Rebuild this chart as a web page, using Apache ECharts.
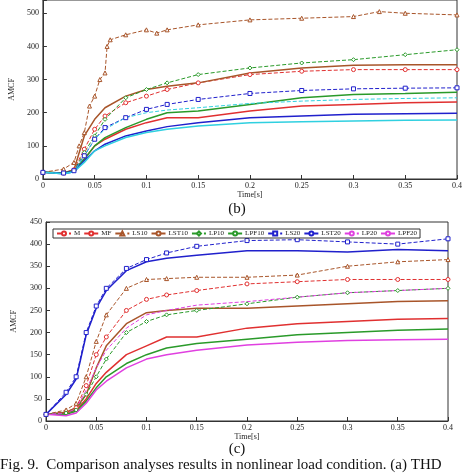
<!DOCTYPE html><html><head><meta charset="utf-8"><script src="https://cdn.jsdelivr.net/npm/echarts@6/dist/echarts.min.js"></script></head><body style="margin:0"><div id="c" style="width:474px;height:474px"></div><script>
const names=['M','MF','LS10','LST10','LP10','LPF10','LS20','LST20','LP20','LPF20'];
const T=[0,0.02,0.03,0.04,0.05,0.06,0.08,0.1,0.12,0.15,0.2,0.25,0.3,0.35,0.4];
const xTicks=[0,0.05,0.1,0.15,0.2,0.25,0.3,0.35,0.4];
// chart (b)
const bM=[20,18,28,90,150,190,230,250,270,290,315,325,330,330,330];
const bMF=[20,18,25,60,100,120,150,170,185,185,205,220,225,230,232];
const bLS10T=[0,0.02,0.03,0.035,0.04,0.045,0.05,0.055,0.06,0.062,0.065,0.08,0.1,0.11,0.12,0.15,0.2,0.25,0.3,0.325,0.35,0.4];
const bLS10=[20,30,50,100,140,220,250,300,320,400,420,435,450,440,450,465,480,485,490,505,500,495];
const bLST10=[20,18,28,130,180,215,250,270,280,290,320,335,343,345,345];
const bLP10=[20,18,25,80,130,180,245,270,290,315,335,350,360,375,390];
const bLPF10=[20,18,25,60,100,125,155,180,200,205,225,245,255,258,262];
const bLS20=[20,18,25,70,120,155,185,210,225,240,258,267,272,274,275];
const bLST20=[20,16,22,55,85,105,130,145,158,170,185,190,195,197,198];
const bLP20=[20,16,22,70,120,150,185,200,208,215,228,235,240,243,245];
const bLPF20=[20,16,22,50,85,100,125,140,150,160,170,173,175,177,178];
// chart (c)
const cM=[15,20,30,80,150,190,250,275,285,295,310,315,320,320,320];
const cMF=[15,18,25,50,85,110,150,170,190,190,210,220,225,230,232];
const cLS10=[15,25,40,100,180,240,300,320,322,325,325,330,350,360,365];
const cLST10=[15,20,30,60,120,170,220,245,250,255,255,260,265,270,272];
const cLP10=[15,18,25,60,100,140,200,225,240,250,265,280,290,295,300];
const cLPF10=[15,15,22,45,75,100,130,150,165,175,185,195,200,205,208];
const cLS20=[15,65,100,200,260,300,345,365,380,395,408,410,405,400,412];
const cLST20=[15,60,95,195,255,295,340,360,368,375,385,385,382,388,385];
const cLP20=[15,18,28,70,120,160,210,240,250,262,270,280,290,295,300];
const cLPF20=[15,12,18,40,70,90,120,140,150,160,172,178,182,184,185];

const red='#e03030',brown='#a8552a',green='#2a9a2a',blue='#2020cc',mag='#e040e0',cyan='#30d0e0';
const F='Liberation Serif';
function sty(i,c2){
  const cols=[red,red,brown,brown,green,green,blue,blue,c2,c2];
  const sym=['circle','none','triangle','none','diamond','none','rect','none','none','none'];
  const dashed=i%2===0;
  return {color:cols[i],symbol:sym[i],type:dashed?'dashed':'solid',w:dashed?1:1.5};
}
function mk(name,i,xs,ys,gi,c2){
  const s=sty(i,c2);
  return {name,type:'line',xAxisIndex:gi,yAxisIndex:gi,data:xs.map((x,k)=>[x,ys[k]]),
    symbol:s.symbol,symbolSize:4,showSymbol:s.symbol!=='none',itemStyle:{color:'#fff',borderColor:s.color,borderWidth:1},
    lineStyle:{color:s.color,type:s.type,width:s.w},color:s.color,animation:false};
}
const bS=[bM,bMF,bLS10,bLST10,bLP10,bLPF10,bLS20,bLST20,bLP20,bLPF20];
const cS=[cM,cMF,cLS10,cLST10,cLP10,cLPF10,cLS20,cLST20,cLP20,cLPF20];
const series=[];
bS.forEach((d,i)=>series.push(mk('b'+names[i],i,i===2?bLS10T:T,d,0,cyan)));
cS.forEach((d,i)=>series.push(mk(names[i],i,T,d,1,mag)));
const ax={axisLine:{lineStyle:{color:'#333'}},axisTick:{inside:true,length:4,lineStyle:{color:'#333'}},splitLine:{show:false},axisLabel:{fontFamily:F,fontSize:9,color:'#222'}};
const opt={
  grid:[{left:38,right:17,top:0,height:179,show:true,borderColor:'#333'},{left:46,right:26,top:222,height:199,show:true,borderColor:'#333'}],
  xAxis:[0,1].map(g=>Object.assign({},ax,{type:'value',gridIndex:g,min:0,max:0.4,interval:0.05,name:'Time[s]',nameLocation:'middle',nameGap:12,nameTextStyle:{fontFamily:F,fontSize:8,color:'#222'},axisLabel:Object.assign({},ax.axisLabel,{margin:3,fontSize:8})})),
  yAxis:[
    Object.assign({},ax,{type:'value',gridIndex:0,min:0,max:540,interval:100,name:'AMCF',nameLocation:'middle',nameGap:22,nameTextStyle:{fontFamily:F,fontSize:8,color:'#222'},axisLabel:Object.assign({},ax.axisLabel,{fontSize:8,margin:4,formatter:v=>v%100===0?v:''})}),
    Object.assign({},ax,{type:'value',gridIndex:1,min:0,max:450,interval:50,name:'AMCF',nameLocation:'middle',nameGap:28,nameTextStyle:{fontFamily:F,fontSize:8,color:'#222'},axisLabel:Object.assign({},ax.axisLabel,{fontSize:8,margin:4})})
  ],
  legend:{data:names,left:53,top:229,width:420,itemGap:3,itemWidth:14,itemHeight:5,padding:[1,3],borderColor:'#333',borderWidth:1,backgroundColor:'#fff',textStyle:{fontFamily:F,fontSize:7,color:'#222',padding:[0,0,0,-2]}},
  graphic:[
    {type:'text',left:'center',top:202,style:{text:'(b)',font:'15px "Liberation Serif"',fill:'#111'}},
    {type:'text',left:'center',top:442,style:{text:'(c)',font:'15px "Liberation Serif"',fill:'#111'}},
    {type:'text',left:0,top:458,style:{text:'Fig. 9.  Comparison analyses results in nonlinear load condition. (a) THD',font:'15px "Liberation Serif"',fill:'#111'}}
  ],
  series
};
echarts.init(document.getElementById('c')).setOption(opt);
</script></body></html>
